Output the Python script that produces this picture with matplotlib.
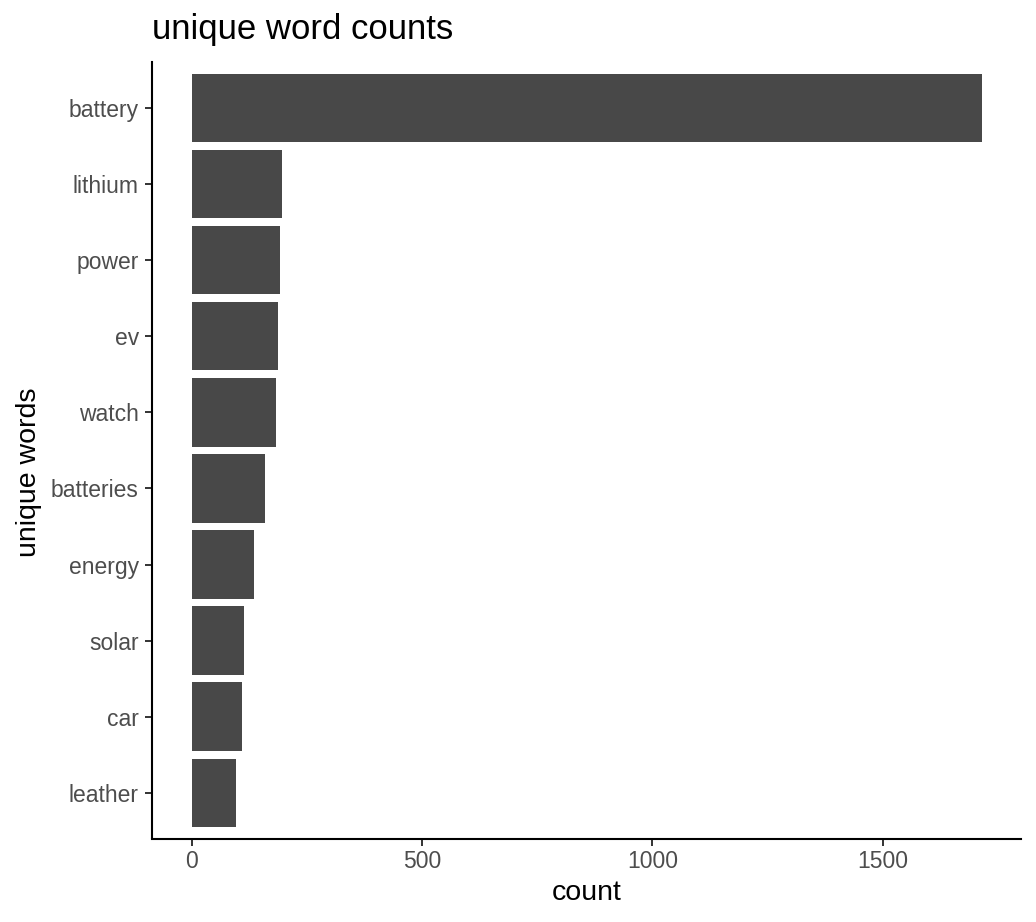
import matplotlib
matplotlib.use("Agg")
import matplotlib.pyplot as plt

# word counts, most frequent first
words = ['battery', 'lithium', 'power', 'ev', 'watch',
         'batteries', 'energy', 'solar', 'car', 'leather']
counts = [1714, 196, 192, 187, 183, 159, 135, 113, 109, 96]
x_ticks = [0, 500, 1000, 1500]

plt.rcParams['font.family'] = ['Liberation Sans', 'DejaVu Sans']

W, H = 1036, 922
fig = plt.figure(figsize=(W / 100, H / 100), dpi=100)
ax = fig.add_axes([152 / W, (H - 838.5) / H, (1021 - 152) / W, (838.5 - 62.3) / H])

pos = list(range(len(words)))[::-1]
ax.barh(pos, counts, height=0.9, color='#484848', edgecolor='none')

span = max(counts)
ax.set_xlim(-0.05 * span, 1.05 * span)
ax.set_ylim(-0.6, len(words) - 1 + 0.6)
ax.set_xticks(x_ticks)
ax.set_xticklabels([str(t) for t in x_ticks])
ax.set_yticks(pos)
ax.set_yticklabels(words)

for side in ['top', 'right']:
    ax.spines[side].set_visible(False)
for side in ['left', 'bottom']:
    ax.spines[side].set_linewidth(1.5)
    ax.spines[side].set_color('black')

ax.tick_params(axis='both', length=5, width=1.4, color='#333333',
               labelsize=16.5, labelcolor='#4D4D4D')
ax.tick_params(axis='y', pad=4.5)
ax.tick_params(axis='x', pad=3.5)

fig.text(152 / W, (H - 39) / H, 'unique word counts', fontsize=25,
         color='black', ha='left', va='baseline')
fig.text(586.5 / W, 22 / H, 'count', fontsize=20.5, color='black',
         ha='center', va='baseline')
fig.text(29 / W, 450 / H, 'unique words', fontsize=20.5, color='black',
         ha='center', va='center', rotation=90)

fig.savefig('out.png', dpi=100)
